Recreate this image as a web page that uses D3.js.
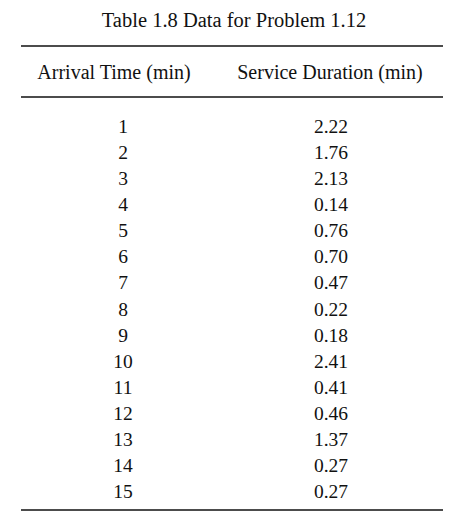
<!DOCTYPE html>
<html><head><meta charset="utf-8">
<script src="https://cdn.jsdelivr.net/npm/d3@7"></script>
<style>body{margin:0;background:#fff}</style></head>
<body><svg id="c" width="463" height="520"></svg>
<script>
const title = "Table 1.8 Data for Problem 1.12";
const headers = ["Arrival Time (min)", "Service Duration (min)"];
const arrival = [1,2,3,4,5,6,7,8,9,10,11,12,13,14,15];
const service = ["2.22","1.76","2.13","0.14","0.76","0.70","0.47","0.22","0.18","2.41","0.41","0.46","1.37","0.27","0.27"];

const svg = d3.select("#c");
const font = "'Liberation Serif', 'Times New Roman', serif";
const x = d3.scalePoint().domain([0,1]).range([123, 331]);
const hx = d3.scalePoint().domain([0,1]).range([114, 330]);
const y = d3.scaleBand().domain(arrival).range([114, 505]);
const col = "#111";
svg.append("text").attr("x",234).attr("y",27).attr("text-anchor","middle")
  .attr("font-family",font).attr("font-size",20.5).attr("fill",col).text(title);
[46, 97, 510].forEach(v => svg.append("line").attr("x1",21).attr("x2",443)
  .attr("y1",v).attr("y2",v).attr("stroke",col).attr("stroke-width",1.5));
headers.forEach((h,i)=>svg.append("text").attr("x",hx(i)).attr("y",79).attr("text-anchor","middle")
  .attr("font-family",font).attr("font-size",20).attr("fill",col).text(h));
arrival.forEach((a,i)=>{
  const yy = y(a)+y.bandwidth()/2+6;
  svg.append("text").attr("x",x(0)).attr("y",yy).attr("text-anchor","middle")
    .attr("font-family",font).attr("font-size",19.5).attr("fill",col).text(a);
  svg.append("text").attr("x",x(1)).attr("y",yy).attr("text-anchor","middle")
    .attr("font-family",font).attr("font-size",19.5).attr("fill",col).text(service[i]);
});
</script></body></html>
